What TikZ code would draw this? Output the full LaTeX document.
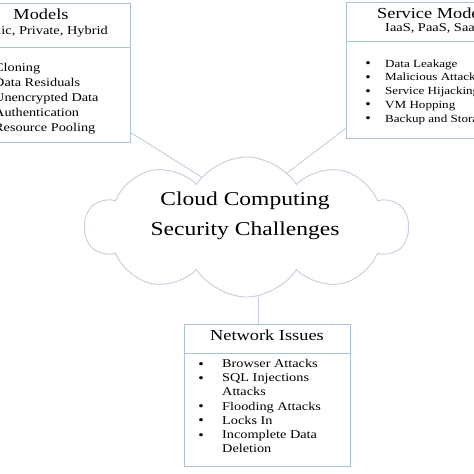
\documentclass[tikz,border=0pt]{standalone}
\usepackage{fontspec}
\setmainfont[FakeStretch=1.2]{Liberation Serif}
\usetikzlibrary{shapes.symbols}
\definecolor{boxline}{RGB}{176,192,214}
\definecolor{cloudline}{RGB}{196,206,222}
\begin{document}
\begin{tikzpicture}[x=1pt,y=-1pt,
  box/.style={draw=boxline, line width=0.9pt, inner sep=0pt},
  conn/.style={draw=cloudline, line width=0.9pt},
  head/.style={font=\fontsize{15.3}{18}\selectfont, inner sep=0pt, anchor=base},
  sub/.style={font=\fontsize{12}{14}\selectfont, inner sep=0pt, anchor=base},
  item/.style={font=\fontsize{11.9}{14}\selectfont, inner sep=0pt, anchor=base west},
  ritem/.style={font=\fontsize{10.9}{13}\selectfont, inner sep=0pt, anchor=base west},
  bul/.style={font=\fontsize{13}{15}\selectfont, inner sep=0pt, anchor=base},
  title/.style={font=\fontsize{19.6}{24}\selectfont, inner sep=0pt, anchor=base}]
\useasboundingbox (0,0) rectangle (474,474);
\clip (0,0) rectangle (474,474);
\fill[white] (0,0) rectangle (474,474);

% boxes
\node[box, minimum width=178pt, minimum height=139pt] (lbox) at (41,72.5) {};
\node[box, minimum width=177pt, minimum height=136pt] (rbox) at (434.5,70) {};
\node[box, minimum width=166pt, minimum height=142pt] (bbox) at (267,395) {};
\coordinate (ldiv) at (0,47);
\coordinate (rdiv) at (0,41);
\coordinate (bdiv) at (0,353);
\draw[boxline, line width=0.9pt] (lbox.west |- ldiv) -- (lbox.east |- ldiv);
\draw[boxline, line width=0.9pt] (rbox.west |- rdiv) -- (rbox.east |- rdiv);
\draw[boxline, line width=0.9pt] (bbox.west |- bdiv) -- (bbox.east |- bdiv);

% left box
\node[head] (lh) at (41,19) {Models};
\node[sub, anchor=base east] (ls) at (108,34) {Public, Private, Hybrid};
\foreach \t [count=\i from 0] in {Cloning, Data Residuals, Unencrypted Data, Authentication, Resource Pooling}
  \node[item] (li\i) at (-6,{71+15*\i}) {\t};

% right box
\node[head] (rh) at (434.5,18) {Service Models};
\node[sub] (rs) at (434,31) {IaaS, PaaS, SaaS};
\foreach \t [count=\i from 0] in {Data Leakage, Malicious Attacks, Service Hijacking, VM Hopping, Backup and Storage}{
  \node[ritem] (ri\i) at (385,{67+13.75*\i}) {\t};
  \node[bul] (rb\i) at (368,{67.5+13.75*\i}) {•};
}

% bottom box
\node[head] (bh) at (267,340) {Network Issues};
\foreach \t [count=\i from 0] in {Browser Attacks, SQL Injections, Attacks, Flooding Attacks, Locks In, Incomplete Data, Deletion}
  \node[item] (bi\i) at (222,{367.5+14.2*\i}) {\t};
\foreach \i in {0,1,3,4,5}
  \node[bul] (bb\i) at (201,{368+14.2*\i}) {•};

% cloud
\node[cloud, draw=cloudline, line width=0.9pt, cloud puffs=10, cloud puff arc=115,
      cloud ignores aspect, minimum width=323pt, minimum height=140pt, inner sep=0pt] (cl) at (246.5,227) {};
\node[title] (t1) at (245,205) {Cloud Computing};
\node[title] (t2) at (245,235) {Security Challenges};

% connectors
\draw[conn] ([yshift=10pt]lbox.south east) -- (cl.132);
\draw[conn] ([yshift=10pt]rbox.south west) -- (cl.53);
\coordinate (bt) at ([xshift=-9pt]bbox.north);
\draw[conn] (bt) -- (bt |- cl.south);
\end{tikzpicture}
\end{document}
